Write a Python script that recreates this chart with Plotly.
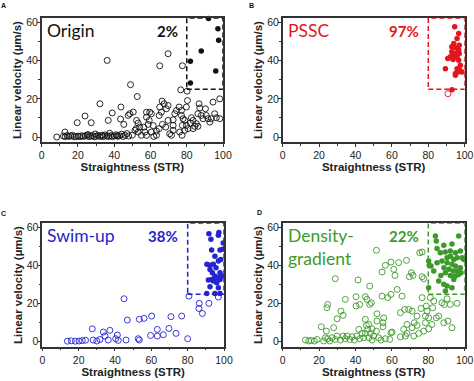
import plotly.graph_objects as go

# ---------------- data ----------------
# Panel A: Origin
a_open_x = [36.1, 69.7, 65.1, 77.6, 49.0, 52.7, 32.1, 43.7, 23.9, 27.3, 19.6, 36.7, 38.9, 43.5, 45.3,
            47.7, 50.5, 48.6, 52.3, 53.2, 52.1, 76.7, 80.2, 80.4, 8.3, 12.8,
            12, 13, 14, 15, 16, 18, 20, 21, 22, 23, 24, 25, 26, 27, 28, 29, 30, 31, 32, 33, 34, 35,
            36, 37, 38, 39, 40, 41, 42, 43, 44, 45, 46, 47, 48, 50, 17, 19, 25.5, 29.5, 33.5, 37.5, 41.5,
            57.8, 59.6, 60.5, 57.8, 59.3, 58.7, 61.5, 56.3, 55.0, 57.8, 60.5, 61.8, 63.3, 64.8, 66.0,
            66.4, 67.5, 65.1, 68.8, 69.7, 69.7, 64.8, 66.6, 70.6, 71.6, 72.5, 72.5, 73.4, 74.3, 75.8,
            77.1, 78.0, 77.6, 76.1, 77.4, 78.9, 79.8, 80.7, 82.0, 82.6, 83.5, 84.4, 85.3, 86.2, 86.8,
            87.2, 88.0, 89.0, 90.3, 90.8, 91.7, 92.7, 93.6, 95.4, 96.3, 98.2, 94.5, 98.2, 86.2, 83.5,
            78.9, 77.1, 79.8, 72.5, 68.4, 56.9, 63.3, 53.2, 54.1, 51.4]
a_open_y = [40.1, 43.6, 37.3, 37.3, 27.4, 21.2, 17.4, 15.7, 11.0, 7.5, 7.5, 8.7, 12.6, 9.4, 6.6,
            11.3, 13.1, 12.2, 8.7, 7.3, 4.4, 24.7, 24.0, 19.1, 0.0, 2.6,
            0.5, 0.2, 0.8, 0.3, 0.6, 0.1, 0.5, 0.2, 0.7, 0.3, 0.6, 1.0, 0.2, 0.5, 0.8, 0.1, 0.4, 0.9,
            0.3, 0.6, 0.2, 1.1, 0.5, 0.3, 0.8, 0.2, 0.6, 1.2, 0.4, 0.7, 1.5, 0.3, 0.9, 1.8, 0.5, 1.0,
            0.9, 0.3, 1.3, 1.6, 1.0, 2.0, 0.6,
            13.0, 13.0, 12.2, 10.4, 8.7, 6.6, 6.0, 5.2, 0.9, 0.9, 2.6, 0.3, 0.9, 11.3, 13.0,
            18.8, 17.4, 15.7, 14.8, 16.5, 8.7, 4.4, 6.6, 1.7, 0.9, 3.5, 9.0, 12.2, 13.9, 15.7,
            11.3, 9.6, 6.1, 2.6, 0.9, 3.5, 6.1, 4.4, 7.3, 10.1, 8.7, 5.6, 7.0, 12.2, 17.4,
            15.2, 11.3, 9.6, 14.8, 11.3, 9.6, 7.8, 9.6, 12.2, 10.1, 9.6, 18.3, 20.0, 5.6, 4.4,
            8.7, 13.9, 15.7, 6.1, 5.2, 2.6, 3.1, 2.6, 5.2, 3.5]
a_fill_x = [92.0, 97.2, 97.6, 88.0, 82.0, 82.0, 96.0]
a_fill_y = [62.0, 56.7, 50.6, 45.0, 39.6, 28.3, 34.6]

# Panel B: PSSC
b_open_x = [90.8]
b_open_y = [22.7]
b_fill_x = [94.5, 96.7, 95.8, 94.0, 97.0, 92.9, 94.9, 96.7, 92.9, 95.2, 97.0, 94.0, 92.1, 95.8,
            90.7, 93.6, 96.7, 97.6, 89.4, 95.8, 97.3, 98.5, 94.9, 96.4, 94.9, 93.0]
b_fill_y = [57.7, 54.2, 51.6, 49.0, 48.0, 47.2, 46.7, 45.5, 44.6, 43.7, 43.7, 42.8, 42.0, 41.6,
            41.1, 40.6, 40.2, 37.6, 35.8, 35.8, 35.0, 34.1, 33.2, 34.1, 32.3, 24.8]

# Panel C: Swim-up
c_open_x = [13.8, 16.0, 18.2, 20.2, 22.0, 23.8, 28.0, 30.0, 31.7, 27.5, 33.6, 34.5, 36.3, 37.2,
            40.4, 41.3, 41.8, 45.0, 46.1, 46.8, 53.4, 56.0, 52.8, 53.4, 60.2, 59.6, 63.3, 63.3,
            66.6, 69.7, 70.8, 73.6, 76.7, 80.0, 80.7, 86.4, 86.2, 88.1, 91.7, 96.9]
c_open_y = [0.3, 0.5, 0.3, 0.4, 0.6, 0.8, 0.9, 0.4, 1.2, 6.8, 5.1, 3.0, 0.9, 6.0,
            1.6, 3.5, 0.7, 22.6, 0.9, 11.4, 11.8, 12.3, 1.6, 0.9, 13.5, 3.3, 6.5, 3.0,
            3.7, 7.0, 13.2, 4.4, 13.5, 1.6, 24.0, 20.2, 17.5, 14.9, 20.2, 23.5]
c_fill_x = [91.7, 97.2, 96.9, 92.8, 93.2, 95.0, 97.8, 99.3, 99.6, 98.2, 90.6, 92.1, 94.1, 95.6,
            92.3, 93.6, 95.0, 96.9, 97.8, 98.9, 91.4, 93.2, 96.0, 97.8, 92.3, 96.9, 97.8, 90.5,
            95.0, 94.1, 97.8, 95.6]
c_fill_y = [56.8, 57.4, 56.0, 53.9, 48.2, 45.0, 48.2, 48.6, 52.0, 43.3, 40.7, 40.2, 40.7, 38.9,
            38.0, 36.3, 34.6, 42.5, 36.3, 34.6, 32.5, 32.8, 31.0, 32.8, 28.9, 28.4, 25.4, 25.4,
            25.4, 31.9, 34.0, 33.7]

# Panel D: Density-gradient
d_open_x = [51.5, 28.9, 41.4, 54.6, 56.4, 59.5, 63.7, 68.0, 76.6, 75.3, 61.0, 61.7, 69.6, 70.7,
            71.6, 76.6, 77.5, 47.8, 40.3, 45.4, 46.3, 34.4, 54.6, 59.5, 57.7, 62.9, 65.6, 76.6,
            81.1, 83.0, 87.5, 88.8, 92.1, 95.8, 90.3, 24.7, 24.3, 32.0, 33.2, 29.9, 40.3, 42.3,
            47.8, 48.7, 45.4, 47.3, 51.8, 51.8, 55.5, 55.1, 55.1, 64.7, 67.0, 69.2, 71.1, 73.8,
            76.0, 78.9, 79.3, 78.4, 80.2, 84.4, 85.7, 82.4, 73.8, 72.3, 71.1, 68.3, 66.5, 67.4,
            64.7, 68.3, 72.0, 74.7, 77.5, 80.2, 82.0, 78.4, 88.5, 90.8, 93.0, 59.5, 21.2, 24.0,
            28.0, 12.5, 14.3, 15.6, 17.4, 18.9, 22.5, 23.4, 24.7, 25.8, 27.1, 28.9, 29.9, 31.7,
            33.2, 34.4, 35.3, 36.8, 38.1, 39.4, 40.8, 41.8, 42.3, 43.6, 44.5, 45.4, 46.7, 47.3,
            48.2, 49.1, 50.0, 51.5, 52.7, 54.0, 56.4, 58.8, 60.1, 49.1, 46.0]
d_open_y = [48.1, 33.2, 32.5, 36.7, 40.2, 41.9, 41.6, 42.8, 47.2, 46.8, 38.1, 34.9, 34.2, 36.3,
            34.9, 34.2, 33.2, 29.3, 23.7, 23.7, 22.3, 22.3, 24.0, 24.9, 23.2, 27.5, 24.0, 23.2,
            23.2, 21.4, 20.5, 19.6, 19.6, 20.2, 22.6, 19.6, 17.9, 16.1, 13.9, 12.1, 18.8, 19.6,
            19.6, 20.5, 11.8, 9.1, 10.9, 14.7, 12.6, 10.0, 7.9, 15.3, 17.0, 17.0, 16.1, 13.5,
            17.5, 18.8, 16.1, 13.5, 12.6, 12.6, 13.5, 17.9, 8.6, 10.0, 7.4, 9.1, 6.5, 3.0,
            2.6, 4.4, 3.0, 4.4, 5.6, 6.8, 9.1, 10.0, 10.0, 10.9, 7.4, 4.7, 7.9, 5.6,
            7.4, 0.9, 0.4, 0.7, 0.4, 1.2, 0.4, 2.1, 1.6, 0.4, 2.1, 1.2, 3.0, 0.9,
            3.0, 1.6, 3.0, 1.2, 2.6, 0.9, 3.0, 6.5, 1.6, 4.4, 2.1, 4.4, 6.5, 2.1,
            4.4, 0.9, 3.0, 5.6, 2.1, 0.9, 1.6, 1.2, 5.1, 6.8, 8.6]
d_fill_x = [83.9, 84.4, 96.7, 84.8, 88.5, 80.2, 81.5, 83.0, 86.6, 89.3, 92.1, 94.9, 97.6, 92.1,
            94.0, 95.8, 98.5, 87.5, 90.3, 93.0, 94.9, 97.6, 88.6, 91.4, 93.8, 95.8, 98.0, 89.4,
            92.1, 94.9, 96.7, 85.7, 88.5, 90.3, 93.0, 80.2, 94.0, 86.9, 84.8, 90.3, 99.5, 93.0,
            89.4, 80.5]
d_fill_y = [55.6, 53.0, 55.6, 49.0, 50.7, 42.5, 39.8, 37.2, 46.8, 47.2, 47.7, 46.8, 47.7, 45.0,
            43.3, 44.2, 44.2, 42.5, 41.6, 40.7, 39.8, 38.9, 38.9, 38.1, 37.2, 37.2, 36.3, 36.3,
            34.9, 34.6, 35.4, 31.9, 30.2, 29.3, 28.4, 28.4, 32.8, 34.9, 41.6, 44.2, 43.3, 51.4,
            26.7, 40.2]

x_ticks = [0, 20, 40, 60, 80, 100]
y_ticks = [0, 20, 40, 60]
box_x = [80, 100]
box_y = [25, 62.3]

# ---------------- figure ----------------
W, H = 474, 381
def px(x):
    return x / W
def py(y):
    return 1 - y / H

BLACK = "#111111"
RED = "#e3161e"
BLUE = "#2424d0"
GREEN = "#3c9a2a"

panels = [
    dict(ox=a_open_x, oy=a_open_y, fx=a_fill_x, fy=a_fill_y, col=BLACK,
         dx=(41.7, 223.0), dy=(18.0, 142.0), name="Origin", pct="2%", letter="A", lp=(3, 5)),
    dict(ox=b_open_x, oy=b_open_y, fx=b_fill_x, fy=b_fill_y, col=RED,
         dx=(282.7, 464.7), dy=(18.0, 142.0), name="PSSC", pct="97%", letter="B", lp=(252, 5)),
    dict(ox=c_open_x, oy=c_open_y, fx=c_fill_x, fy=c_fill_y, col=BLUE,
         dx=(42.3, 224.0), dy=(223.3, 346.7), name="Swim-up", pct="38%", letter="C", lp=(4, 213)),
    dict(ox=d_open_x, oy=d_open_y, fx=d_fill_x, fy=d_fill_y, col=GREEN,
         dx=(282.7, 464.7), dy=(223.3, 346.7), name="Density-<br>gradient", pct="22%", letter="D",
         lp=(259, 212)),
]

fig = go.Figure()
axis_font = dict(family="Liberation Sans, Arial", size=10.5, color="#222")
title_font = dict(family="Liberation Sans, Arial", size=11.5, color="#222")

for i, p in enumerate(panels):
    n = "" if i == 0 else str(i + 1)
    xa, ya = "x" + n, "y" + n
    fig.add_trace(go.Scatter(x=p["ox"], y=p["oy"], mode="markers", xaxis=xa, yaxis=ya,
                             marker=dict(symbol="circle-open", size=6, color=p["col"],
                                         line=dict(width=0.9, color=p["col"])),
                             showlegend=False, hoverinfo="skip"))
    fig.add_trace(go.Scatter(x=p["fx"], y=p["fy"], mode="markers", xaxis=xa, yaxis=ya,
                             marker=dict(symbol="circle", size=5.5, color=p["col"]),
                             showlegend=False, hoverinfo="skip", cliponaxis=False))
    xdom = [px(p["dx"][0]), px(p["dx"][1])]
    ydom = [py(p["dy"][1]), py(p["dy"][0])]
    common = dict(showline=True, mirror=True, linecolor="#333", linewidth=1.5,
                  ticks="outside", ticklen=3, tickwidth=1.2, tickcolor="#333", automargin=False,
                  showgrid=False, zeroline=False, tickfont=axis_font)
    fig.update_layout(**{
        "xaxis" + n: dict(domain=xdom, range=[0, 100], tickvals=x_ticks,
                          anchor=ya, minor=dict(dtick=10, ticklen=2, tickcolor="#333", ticks="outside"),
                          title=dict(text="<b>Straightness (STR)</b>", font=title_font, standoff=1),
                          tickprefix="<b>", ticksuffix="</b>", **common),
        "yaxis" + n: dict(domain=ydom, range=[-2.6, 62.3], tickvals=y_ticks,
                          anchor=xa, minor=dict(dtick=10, ticklen=2, tickcolor="#333", ticks="outside"),
                          ticklabelstandoff=-3,
                          title=dict(text="<b>Linear velocity (µm/s)</b>", font=title_font, standoff=2),
                          tickprefix="<b>", ticksuffix="</b>", **common),
    })
    fig.add_shape(type="rect", xref=xa, yref=ya, x0=box_x[0], x1=box_x[1], y0=box_y[0], y1=box_y[1],
                  line=dict(color=p["col"], width=1.5, dash="5px,3px"))
    # label text
    fig.add_annotation(xref="paper", yref="paper", x=px(p["dx"][0] + 3), y=py(p["dy"][0] + 0),
                       xanchor="left", yanchor="top", text=p["name"], showarrow=False,
                       align="left", font=dict(family="Lato", size=17.5, color=p["col"]))
    fig.add_annotation(xref="paper", yref="paper", x=px(p["dx"][0] + 138), y=py(p["dy"][0] + 13),
                       xanchor="right", yanchor="middle", text="<b>" + p["pct"] + "</b>", showarrow=False,
                       font=dict(family="Lato", size=15, color=p["col"]))
    fig.add_annotation(xref="paper", yref="paper", x=px(p["lp"][0]), y=py(p["lp"][1]),
                       xanchor="center", yanchor="middle", text="<b>" + p["letter"] + "</b>",
                       showarrow=False,
                       font=dict(family="Liberation Sans, Arial", size=7, color="#111"))

fig.update_layout(width=W, height=H, margin=dict(l=0, r=0, t=0, b=0),
                  paper_bgcolor="white", plot_bgcolor="white")
fig.write_html("out.html", config={"displayModeBar": False},
               post_script="document.body.style.margin='0';document.body.style.padding='0';")
